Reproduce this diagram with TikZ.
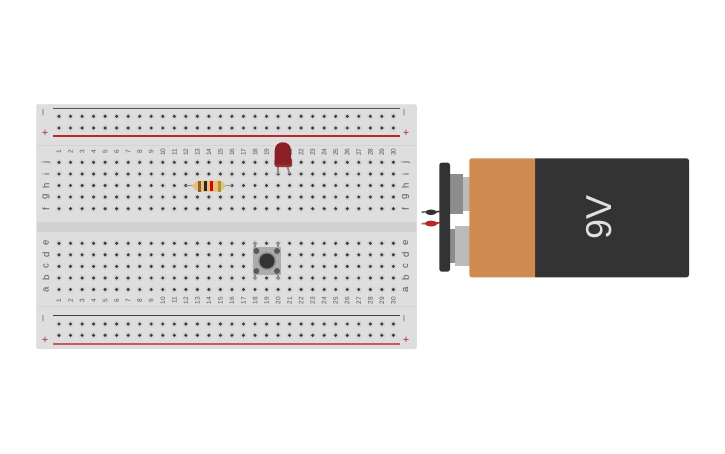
\documentclass[tikz,border=0pt]{standalone}
\usepackage{fontspec}
\setmainfont{Liberation Sans}
\usetikzlibrary{positioning,calc}
\definecolor{boardgrey}{HTML}{DEDEDE}
\definecolor{channelgrey}{HTML}{D2D2D2}
\definecolor{edgegrey}{HTML}{CCCCCC}
\definecolor{holedark}{HTML}{3A3A3A}
\definecolor{haloGrey}{HTML}{D3D3D3}
\definecolor{railred}{HTML}{B8282A}
\definecolor{railpale}{HTML}{C85A5A}
\definecolor{labelgrey}{HTML}{555555}
\definecolor{ledred}{HTML}{8A2025}
\definecolor{ledrim}{HTML}{9E3236}
\definecolor{legGrey}{HTML}{8E8E8E}
\definecolor{bodytan}{HTML}{E6BF80}
\definecolor{battorange}{HTML}{D08C50}
\definecolor{battdark}{HTML}{333333}
\definecolor{capgrey}{HTML}{8C8C8C}
\definecolor{caplight}{HTML}{BBBBBB}
\definecolor{btngrey}{HTML}{ACACAC}
\tikzset{
  numlabel/.style={font=\fontsize{6.5}{6.5}\selectfont, text=labelgrey, rotate=90, inner sep=0pt},
  letterlabel/.style={font=\fontsize{9.5}{9.5}\selectfont, text=labelgrey, rotate=90, inner sep=0pt},
  signlabel/.style={font=\fontsize{11}{11}\selectfont, text=railred, inner sep=0pt},
  minuslabel/.style={font=\fontsize{13}{13}\selectfont, text=gray, rotate=90, inner sep=0pt},
  wirelead/.style={line width=1.8pt, draw=legGrey},
}
\begin{document}
\begin{tikzpicture}[x=1pt, y=-1pt]
    \def\DX{11.53}
    \useasboundingbox (0,0) rectangle (725,453);
    % board
    \fill[white] (0,0) rectangle (725,453);
    \draw[edgegrey, fill=boardgrey, rounded corners=2pt] (36.5,104.5) rectangle (416.5,348.5);
    \fill[channelgrey] (37,222) rectangle (416,231.5);
    \draw[edgegrey!60!boardgrey, line width=.7pt] (37,145.5) -- (416,145.5);
    \draw[edgegrey!60!boardgrey, line width=.7pt] (37,306.5) -- (416,306.5);
    % holes
    \foreach \r/\y in {ta/116.3,tb/128,j/162.3,i/174,h/185.5,g/197,f/208.7,e/243.3,d/254.8,c/266.4,b/278,a/289.5,ba/324,bb/335.3} {
      \foreach \i in {1,...,30} {
        \coordinate (\r\i) at ({59+(\i-1)*\DX},\y);
        \fill[haloGrey] (\r\i) circle (3.2pt);
        \fill[holedark] (\r\i) circle (1.7pt);
      }
    }
    % column numbers
    \foreach \i in {1,...,30} {
      \node[numlabel] (numtop\i) at ({59+(\i-1)*\DX},152) {\i};
      \node[numlabel] (numbot\i) at ({59+(\i-1)*\DX},300.5) {\i};
    }
    % row letters
    \foreach \r in {a,b,c,d,e,f,g,h,i,j} {
      \node[letterlabel] (left\r) at (46,0 |- \r1) {\r};
      \node[letterlabel] (right\r) at (405.5,0 |- \r1) {\r};
    }
    % rails
    \draw[labelgrey, line width=1.4pt] (53,108.7) -- (400,108.7);
    \draw[railred, line width=1.1pt] (53,136) -- (400,136);
    \draw[black!75, line width=1.1pt] (53,315.7) -- (400,315.7);
    \draw[railpale, line width=1.7pt] (53,343.7) -- (400,343.7);
    \node[minuslabel] (minusTL) at (45,113) {−};
    \node[minuslabel] (minusTR) at (406,113) {−};
    \node[minuslabel] (minusBL) at (45,319) {−};
    \node[minuslabel] (minusBR) at (406,319) {−};
    \node[signlabel] (plusTL) at (45,133.5) {+};
    \node[signlabel] (plusTR) at (406,133.5) {+};
    \node[signlabel] (plusBL) at (45,340) {+};
    \node[signlabel] (plusBR) at (406,340) {+};
    % resistor
    \draw[wirelead] (h12) -- (h16);
    \fill[bodytan] (192,186) .. controls (195,183) and (196,180.5) .. (200,180.5)
      -- (219,180.5) .. controls (222,180.5) and (223,183) .. (226,186)
      .. controls (223,189) and (222,191.5) .. (219,191.5)
      -- (200,191.5) .. controls (196,191.5) and (195,189) .. (192,186) -- cycle;
    \fill[brown!75!black] (198,180.5) rectangle (201,191.5);
    \fill[black!85] (204,181) rectangle (207,191);
    \fill[red!90!black] (209.5,181) rectangle (212.8,191);
    \fill[olive!70!bodytan] (218.3,180.5) rectangle (220.5,191.5);
    % led
    \draw[wirelead] (278,165) -- (i20);
    \draw[wirelead] (287,165) -- (i21);
    \fill[ledrim, rounded corners=1.5pt] (274.7,158) rectangle (292,167);
    \fill[ledred] (274.7,164.5) -- (274.7,150.5) .. controls (274.7,139.5) and (291,139.5) .. (291,150.5) -- (291,164.5) -- cycle;
    % push button
    \foreach \p in {b18,b20,e18,e20} {
      \fill[legGrey] (\p) circle (1.6pt);
    }
    \draw[legGrey, line width=1.4pt] (e18) -- (b18 |- 0,250);
    \draw[legGrey, line width=1.4pt] (e20) -- (b20 |- 0,250);
    \draw[legGrey, line width=1.4pt] (b18) -- (b18 |- 0,272);
    \draw[legGrey, line width=1.4pt] (b20) -- (b20 |- 0,272);
    \fill[btngrey] (253.3,247.3) rectangle (281,275);
    \foreach \p/\q in {256.4/251,277/251,256.4/271,277/271} {
      \fill[black!65] (\p,\q) circle (3pt);
    }
    \fill[black!45] (267,261) circle (9pt);
    \fill[black!80] (267,261) circle (7.5pt);
    % battery clip
    \fill[capgrey] (450,174) rectangle (462.7,214.3);
    \fill[caplight] (462.7,177.3) rectangle (470,211);
    \fill[capgrey] (450,229) rectangle (455,262.7);
    \fill[caplight] (455,225.7) rectangle (470,265.7);
    \fill[battdark, rounded corners=2.5pt] (439.3,162.7) rectangle (450,271.7);
    % battery
    \fill[battdark, rounded corners=2.5pt] (535,158.3) -- (689,158.3) -- (689,277.3) -- (535,277.3);
    \fill[battorange, rounded corners=2.5pt] (535,158.3) -- (469.3,158.3) -- (469.3,277.3) -- (535,277.3);
    \node[rotate=90, text=black!12, font=\fontsize{36}{36}\selectfont, inner sep=0pt] (label9V) at (599.5,217.5) {9V};
    % clip wires
    \coordinate (blackend) at (421.7,212.3);
    \coordinate (redend) at (421.7,223.6);
    \coordinate (blackclip) at (440,211.5);
    \coordinate (redclip) at (440,222.8);
    \draw[battdark, line width=1.6pt] (blackend) -- (blackclip);
    \fill[battdark] (425,212.3) .. controls (427,208.5) and (435,208.5) .. (437,212.3)
      .. controls (435,216) and (427,216) .. (425,212.3) -- cycle;
    \draw[gray, line width=1.6pt] (blackend) -- ++(4,0);
    \draw[railred, line width=1.6pt] (redend) -- (redclip);
    \fill[railred] (424.5,223.6) .. controls (427,219.5) and (435,219.5) .. (438,223.6)
      .. controls (435,227.5) and (427,227.5) .. (424.5,223.6) -- cycle;
    \draw[gray, line width=1.6pt] (redend) -- ++(3.5,0);
\end{tikzpicture}
\end{document}
